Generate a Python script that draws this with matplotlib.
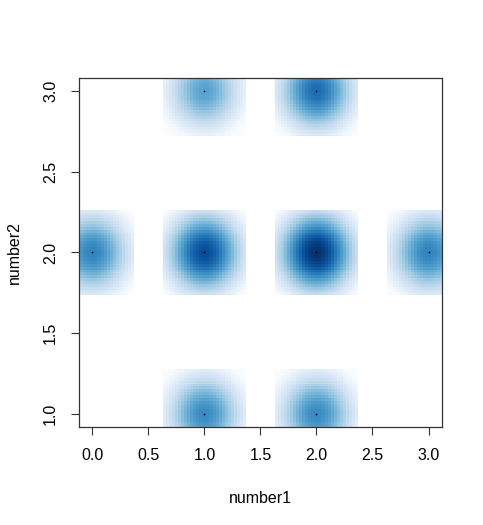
import numpy as np
import matplotlib
matplotlib.use('Agg')
import matplotlib.pyplot as plt
from matplotlib.colors import LinearSegmentedColormap

# points and how many times each one occurs
number1 = [0, 1, 1, 1, 2, 2, 2, 3]
number2 = [2, 1, 2, 3, 1, 2, 3, 2]
counts = [8, 7, 20, 4, 7, 30, 12, 8]

blues9 = ["#F7FBFF", "#DEEBF7", "#C6DBEF", "#9ECAE1", "#6BAED6",
          "#4292C6", "#2171B5", "#08519C", "#08306B"]

plt.rcParams['font.family'] = ['Liberation Sans', 'DejaVu Sans']

x = np.array(number1, dtype=float)
y = np.array(number2, dtype=float)
w = np.array(counts, dtype=float)

# smoothScatter style density: gaussian kernel on a 128x128 grid, truncated
bw = (0.118, 0.088)
cut = (0.36, 0.27)  # kernel support half-width
nbin = 128
gx = np.linspace(x.min() - 0.17, x.max() + 0.17, nbin)
gy = np.linspace(y.min() - 0.12, y.max() + 0.12, nbin)

dens = np.zeros((nbin, nbin))
for xi, yi, wi in zip(x, y, w):
    ux = gx - xi
    uy = gy - yi
    kx = np.exp(-0.5 * (ux / bw[0]) ** 2) * (np.abs(ux) <= cut[0])
    ky = np.exp(-0.5 * (uy / bw[1]) ** 2) * (np.abs(uy) <= cut[1])
    dens += wi * np.outer(ky, kx)
dens = dens ** 0.25

cmap = LinearSegmentedColormap.from_list('blues', ["white"] + blues9, N=256)

fig = plt.figure(figsize=(4.83, 5.25), dpi=100)
ax = fig.add_axes([0.1636, 0.1867, 0.7514, 0.6647])
ax.pcolormesh(gx, gy, dens, cmap=cmap, shading='nearest', vmin=0, vmax=dens.max())
ax.plot(x, y, 'o', color='black', markersize=1.2, markeredgewidth=0)

ax.set_xlim(-0.12, 3.12)
ax.set_ylim(0.92, 3.08)
ax.set_xticks([0.0, 0.5, 1.0, 1.5, 2.0, 2.5, 3.0])
ax.set_yticks([1.0, 1.5, 2.0, 2.5, 3.0])
ax.set_xticklabels(["0.0", "0.5", "1.0", "1.5", "2.0", "2.5", "3.0"], fontsize=11.5)
ax.set_yticklabels(["1.0", "1.5", "2.0", "2.5", "3.0"], fontsize=11.5,
                   rotation=90, va='center')
ax.tick_params(direction='out', length=6, width=0.8, color='#333333', pad=9)
for s in ax.spines.values():
    s.set_color('#333333')
    s.set_linewidth(0.9)
ax.set_xlabel("number1", fontsize=11.5, labelpad=20)
ax.set_ylabel("number2", fontsize=11.5, labelpad=15)

fig.savefig('out.png', dpi=100)
